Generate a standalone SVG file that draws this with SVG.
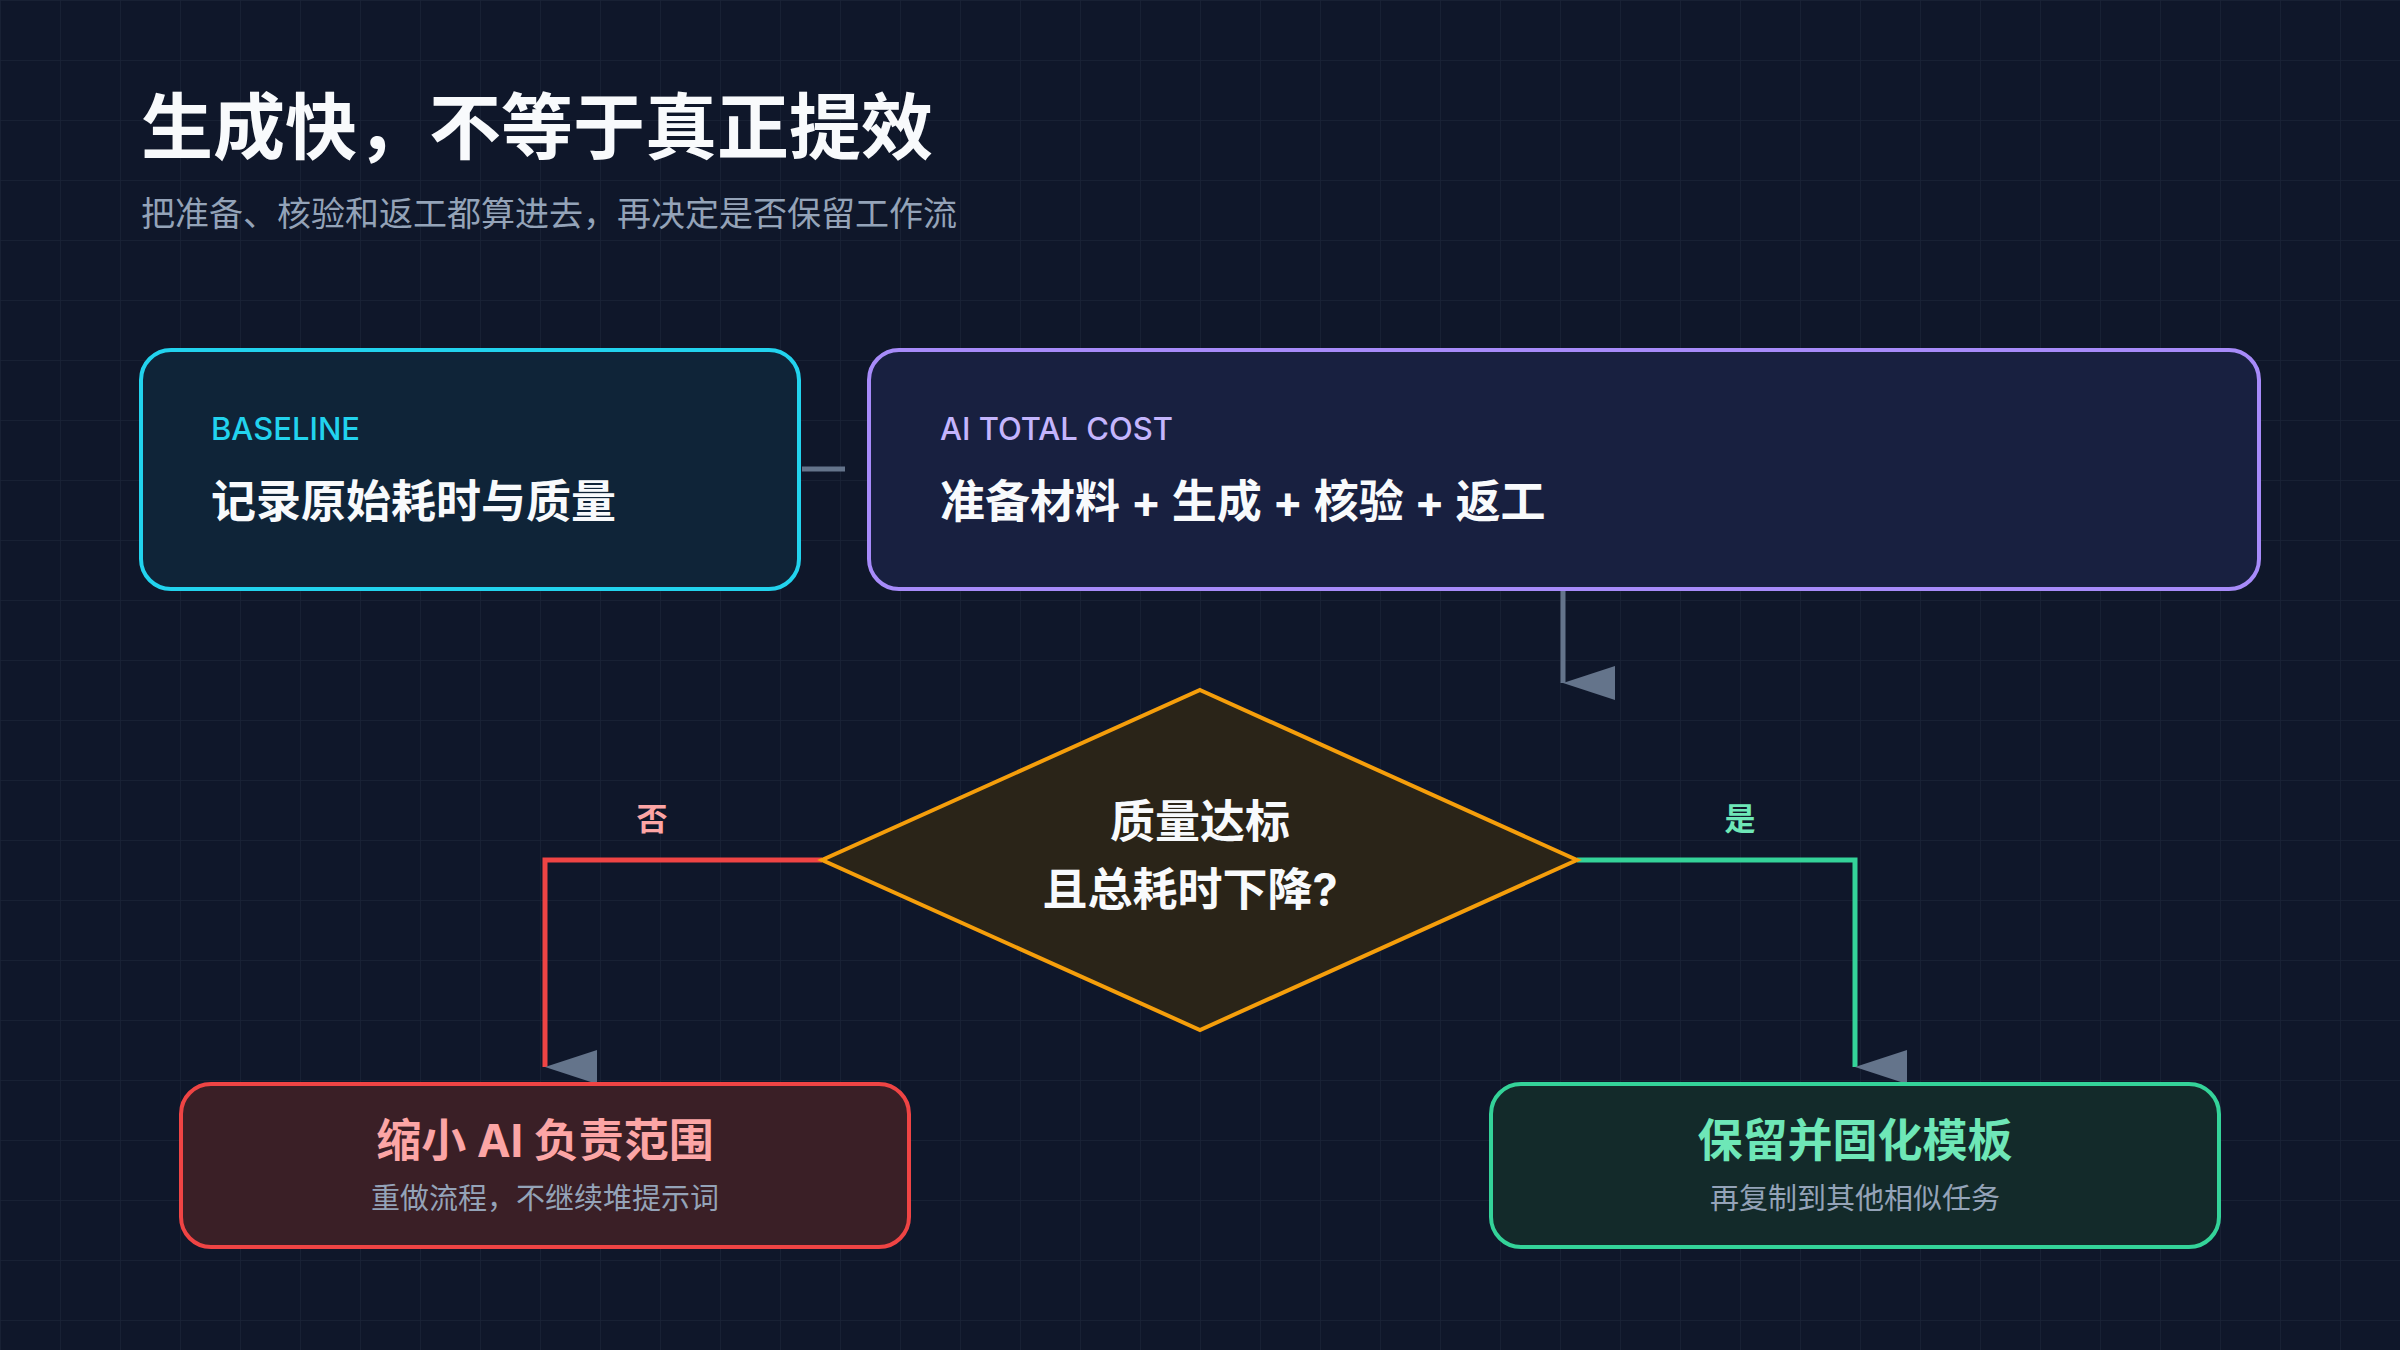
<svg xmlns="http://www.w3.org/2000/svg" width="2400" height="1350" viewBox="0 0 2400 1350">
<defs>
<pattern id="grid" width="60" height="60" patternUnits="userSpaceOnUse">
<path d="M60 0H0V60" fill="none" stroke="#1a2438" stroke-width="1.5"/>
</pattern>
<marker id="ah" markerWidth="34" markerHeight="52" refX="17" refY="52" orient="auto" markerUnits="userSpaceOnUse" viewBox="0 0 34 52">
<path d="M0 0L34 0L17 52Z" fill="#64748b"/>
</marker>
<style>
text{font-family:"Inter","Noto Sans CJK SC",sans-serif}
.h{font-weight:700;fill:#f8fafc}
.tag{font-size:31px;font-weight:500}
.big{font-size:45px;font-weight:700;fill:#f8fafc}
.sub{font-size:29px;fill:#94a3b8;text-anchor:middle}
</style>
</defs>
<rect width="2400" height="1350" fill="#0f172a"/>
<rect width="2400" height="1350" fill="url(#grid)"/>
<text x="141" y="153" class="h" font-size="72">生成快，不等于真正提效</text>
<text x="141" y="226" font-size="34" fill="#94a3b8">把准备、核验和返工都算进去，再决定是否保留工作流</text>
<g id="connectors" fill="none" stroke-width="5">
<line x1="802" y1="469" x2="845" y2="469" stroke="#64748b"/>
<line x1="1563" y1="591" x2="1563" y2="683" stroke="#64748b" marker-end="url(#ah)"/>
<path d="M822 860H545V1067" stroke="#ef4444" marker-end="url(#ah)"/>
<path d="M1577 860H1855V1067" stroke="#34d399" marker-end="url(#ah)"/>
<text x="652" y="830" font-size="31" font-weight="700" fill="#fca5a5" stroke="none" text-anchor="middle">否</text>
<text x="1740" y="830" font-size="31" font-weight="700" fill="#6ee7b7" stroke="none" text-anchor="middle">是</text>
</g>
<g id="baseline">
<rect x="141" y="350" width="658" height="239" rx="30" fill="#0f2438" stroke="#22d3ee" stroke-width="4"/>
<text x="211" y="440" class="tag" fill="#22d3ee">BASELINE</text>
<text x="211" y="518" class="big">记录原始耗时与质量</text>
</g>
<g id="aicost">
<rect x="869" y="350" width="1390" height="239" rx="30" fill="#182040" stroke="#a78bfa" stroke-width="4"/>
<text x="940" y="440" class="tag" fill="#c4b5fd">AI TOTAL COST</text>
<text x="940" y="518" class="big">准备材料 + 生成 + 核验 + 返工</text>
</g>
<g id="decision">
<path d="M1200 690L1577 860L1200 1030L822 860Z" fill="#2a2418" stroke="#f59e0b" stroke-width="4"/>
<text x="1200" y="838" class="big" font-size="43" text-anchor="middle">质量达标</text>
<text x="1190" y="906" class="big" font-size="43" text-anchor="middle">且总耗时下降?</text>
</g>
<g id="no">
<rect x="181" y="1084" width="728" height="163" rx="30" fill="#3a1f26" stroke="#ef4444" stroke-width="4"/>
<text x="545" y="1157" class="big" font-size="42" fill="#fca5a5" text-anchor="middle" style="fill:#fca5a5">缩小 AI 负责范围</text>
<text x="545" y="1209" class="sub">重做流程，不继续堆提示词</text>
</g>
<g id="yes">
<rect x="1491" y="1084" width="728" height="163" rx="30" fill="#132a2a" stroke="#34d399" stroke-width="4"/>
<text x="1855" y="1157" class="big" font-size="42" text-anchor="middle" style="fill:#6ee7b7">保留并固化模板</text>
<text x="1855" y="1209" class="sub">再复制到其他相似任务</text>
</g>
</svg>
